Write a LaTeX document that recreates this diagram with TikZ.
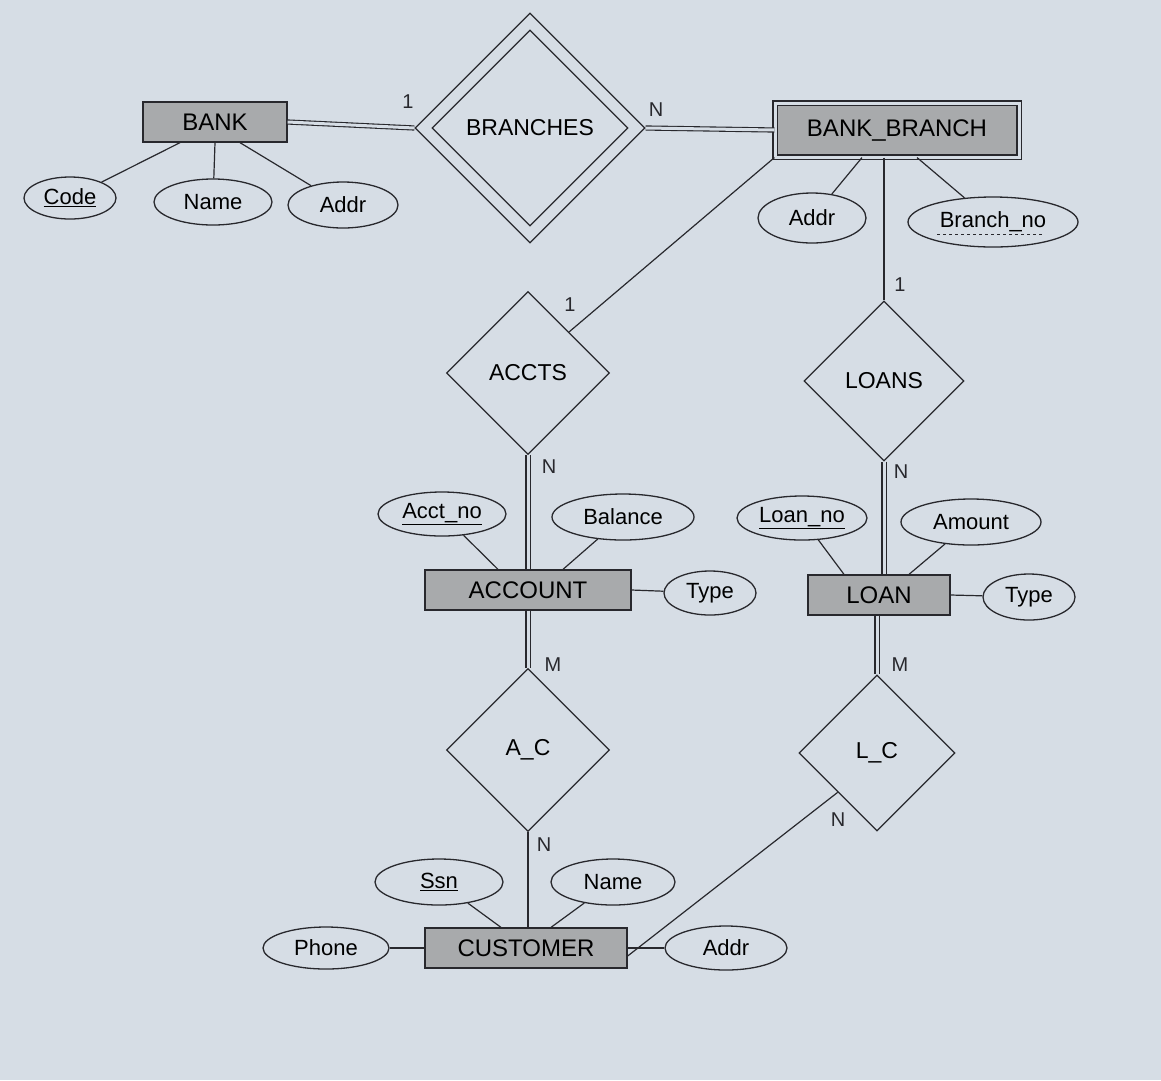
\documentclass[tikz,border=0pt]{standalone}
\usepackage{fontspec}
\setmainfont{Liberation Sans}
\usetikzlibrary{shapes.geometric}
\definecolor{bgc}{RGB}{214,221,229}
\definecolor{entc}{RGB}{168,170,172}
\definecolor{ink}{RGB}{40,40,45}
\tikzset{
 ent/.style={draw=ink,line width=1.3pt,fill=entc,minimum height=40pt,inner sep=2pt,font=\fontsize{24}{28}\selectfont},
 att/.style={draw=ink,line width=1.3pt,ellipse,inner sep=0pt,font=\fontsize{22}{26}\selectfont},
 rel/.style={draw=ink,line width=1.3pt,diamond,aspect=1,inner sep=0pt,font=\fontsize{23}{27}\selectfont},
 ln/.style={draw=ink,line width=1.2pt},
 dl/.style={draw=ink,line width=1.1pt,double=bgc,double distance=3pt},
 card/.style={font=\fontsize{20}{24}\selectfont,text=ink}
}
\begin{document}
\begin{tikzpicture}[x=1pt,y=-1pt]
\fill[bgc] (0,0) rectangle (1161,1080);
\useasboundingbox (0,0) rectangle (1161,1080);
% BANK
\node[ent,minimum width=144pt] (bank) at (215,122) {BANK};
\node[att,minimum width=92pt,minimum height=42pt] (code) at (70,198) {\underline{Code}};
\node[att,minimum width=118pt,minimum height=46pt] (bname) at (213,202) {Name};
\node[att,minimum width=110pt,minimum height=46pt] (baddr) at (343,205) {Addr};
\draw[ln] (code) -- ([xshift=-35pt]bank.south);
\draw[ln] (bname) -- (bank.south);
\draw[ln] (baddr) -- ([xshift=25pt]bank.south);
% BRANCHES
\node[rel,minimum size=230pt] (br) at (530,128) {};
\node[rel,minimum size=196pt] (bri) at (530,128) {BRANCHES};
% BANK_BRANCH
\node[ent,minimum width=244pt,minimum height=54pt,double=bgc,double distance=3pt,line width=1.1pt] (bb) at (897,130) {BANK\_BRANCH};
\node[att,minimum width=108pt,minimum height=50pt] (bbaddr) at (812,218) {Addr};
\node[att,minimum width=170pt,minimum height=50pt] (bno) at (993,222) {Branch\_no};
\draw[ink,dashed,line width=1pt] (937,234) -- (1043,234);
\draw[ln] (bbaddr) -- ([xshift=-35pt]bb.south);
\draw[ln] (bno) -- ([xshift=20pt]bb.south);
\draw[dl] (bank.east) -- (br.west);
\draw[dl] (br.east) -- (bb.west);
\node[card] at (408,102) {1};
\node[card] at (656,110) {N};
% ACCTS / LOANS
\node[rel,minimum size=163pt] (accts) at (528,373) {ACCTS};
\node[rel,minimum size=160pt] (loans) at (884,381) {LOANS};
\draw[ln] (bb.south west) -- (accts.north east);
\draw[ln] (bb.south -| loans.north) -- (loans.north);
\node[card] at (570,305) {1};
\node[card] at (900,285) {1};
% ACCOUNT
\node[ent,minimum width=206pt] (acc) at (528,590) {ACCOUNT};
\node[att,minimum width=128pt,minimum height=44pt] (ano) at (442,514) {\underline{Acct\_no}};
\node[att,minimum width=142pt,minimum height=46pt] (bal) at (623,517) {Balance};
\node[att,minimum width=92pt,minimum height=44pt] (atype) at (710,593) {Type};
\draw[ln] (ano) -- ([xshift=-30pt]acc.north);
\draw[ln] (bal) -- ([xshift=35pt]acc.north);
\draw[ln] (acc.east) -- (atype);
\draw[dl] (accts.south) -- (acc.north);
\node[card] at (549,467) {N};
% LOAN
\node[ent,minimum width=142pt] (loan) at (879,595) {LOAN};
\node[att,minimum width=130pt,minimum height=44pt] (lno) at (802,518) {\underline{Loan\_no}};
\node[att,minimum width=140pt,minimum height=46pt] (amt) at (971,522) {Amount};
\node[att,minimum width=92pt,minimum height=46pt] (ltype) at (1029,597) {Type};
\draw[ln] (lno) -- ([xshift=-35pt]loan.north);
\draw[ln] (amt) -- ([xshift=30pt]loan.north);
\draw[ln] (loan.east) -- (ltype);
\draw[dl] (loans.south) -- (loans.south |- loan.north);
\node[card] at (901,472) {N};
% A_C / L_C
\node[rel,minimum size=163pt] (ac) at (528,750) {A\_C};
\node[rel,minimum size=156pt] (lc) at (877,753) {L\_C};
\draw[dl] (acc.south) -- (ac.north);
\draw[dl] (loan.south -| lc.north) -- (lc.north);
\node[card] at (553,665) {M};
\node[card] at (900,665) {M};
% CUSTOMER
\node[ent,minimum width=202pt] (cust) at (526,948) {CUSTOMER};
\node[att,minimum width=128pt,minimum height=46pt] (ssn) at (439,882) {\underline{Ssn}};
\node[att,minimum width=124pt,minimum height=46pt] (cname) at (613,882) {Name};
\node[att,minimum width=126pt,minimum height=42pt] (phone) at (326,948) {Phone};
\node[att,minimum width=122pt,minimum height=44pt] (caddr) at (726,948) {Addr};
\draw[ln] (ssn) -- ([xshift=-25pt]cust.north);
\draw[ln] (cname) -- ([xshift=25pt]cust.north);
\draw[ln] (phone) -- (cust.west);
\draw[ln] (cust.east) -- (caddr);
\draw[ln] (ac.south) -- (ac.south |- cust.north);
\draw[ln] (lc.south west) -- ([yshift=-8pt]cust.east);
\node[card] at (544,845) {N};
\node[card] at (838,820) {N};
\end{tikzpicture}
\end{document}
